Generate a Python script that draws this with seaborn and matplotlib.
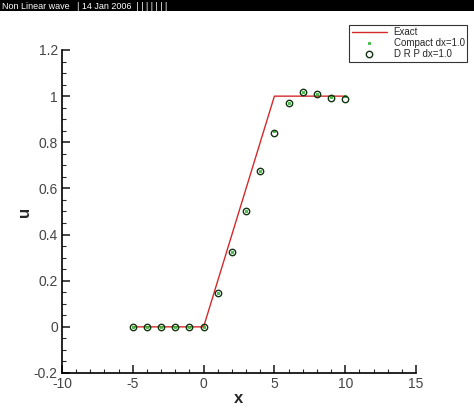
import matplotlib
matplotlib.use("Agg")
import matplotlib.pyplot as plt
import seaborn as sns
import numpy as np
import pandas as pd

# solucion exacta
exact_x = [-5, 0, 5, 10]
exact_u = [0, 0, 1, 1]

# esquemas numericos, dx = 1.0
puntos_x = [-5, -4, -3, -2, -1, 0, 1, 2, 3, 4, 5, 6, 7, 8, 9, 10]
compact_u = [0, 0, 0, 0, 0, 0, 0.146, 0.325, 0.504, 0.677, 0.85, 0.972, 1.02, 1.01, 0.995, 1.0]
drp_u = [0, 0, 0, 0, 0, 0, 0.146, 0.325, 0.504, 0.677, 0.839, 0.972, 1.018, 1.01, 0.993, 0.989]

x_ticks = [-10, -5, 0, 5, 10, 15]
y_ticks = [-0.2, 0, 0.2, 0.4, 0.6, 0.8, 1, 1.2]

sns.set_style("ticks")
plt.rcParams['font.family'] = ['Liberation Sans', 'DejaVu Sans']

fig = plt.figure(figsize=(4.74, 4.2), dpi=100)
ax = fig.add_axes([62 / 474, 47 / 420, 354 / 474, 323 / 420])

df_exact = pd.DataFrame({'x': exact_x, 'u': exact_u})
df_pts = pd.DataFrame({'x': puntos_x, 'compact': compact_u, 'drp': drp_u})

sns.lineplot(data=df_exact, x='x', y='u', ax=ax, color='#d42a2a', linewidth=1.0,
             sort=False, label='Exact')
ax.plot(df_pts['x'], df_pts['compact'], linestyle='none', marker='s', markersize=1.8,
        markerfacecolor='#44cc44', markeredgecolor='#22aa22', markeredgewidth=0.5,
        label='Compact dx=1.0')
ax.plot(df_pts['x'], df_pts['drp'], linestyle='none', marker='o', markersize=4.6,
        markerfacecolor='none', markeredgecolor='#113311', markeredgewidth=1.0,
        label='D R P dx=1.0')

ax.set_xlim(-10, 15)
ax.set_ylim(-0.2, 1.2)
ax.set_xticks(x_ticks)
ax.set_yticks(y_ticks)
ax.set_xticklabels([str(t) for t in x_ticks])
ax.set_yticklabels(['-0.2', '0', '0.2', '0.4', '0.6', '0.8', '1', '1.2'])
ax.xaxis.set_minor_locator(matplotlib.ticker.MultipleLocator(1))
ax.yaxis.set_minor_locator(matplotlib.ticker.MultipleLocator(0.05))
ax.tick_params(which='major', direction='in', length=6, width=1.2, labelsize=10,
               labelcolor='#444444', pad=3)
ax.tick_params(which='minor', direction='in', length=3, width=0.8)
sns.despine(ax=ax)
for s in ['left', 'bottom']:
    ax.spines[s].set_linewidth(1.2)
    ax.spines[s].set_color('black')

ax.set_xlabel('x', fontsize=12, fontweight='bold', labelpad=0)
ax.set_ylabel('u', fontsize=12, fontweight='bold', labelpad=1)

ax.get_legend().remove()
handles, labels = ax.get_legend_handles_labels()
leg = fig.legend(handles, labels, loc='upper right', bbox_to_anchor=(467 / 474, 1 - 25 / 420),
                 fontsize=7, frameon=True, fancybox=False, handlelength=3.6,
                 borderpad=0.25, labelspacing=0.1, handletextpad=0.7, borderaxespad=0)
leg.get_frame().set_edgecolor('black')
leg.get_frame().set_linewidth(0.8)

# barra de titulo
barra = fig.add_axes([0, 1 - 11 / 420, 1, 11 / 420])
barra.set_facecolor('black')
barra.set_xticks([])
barra.set_yticks([])
for s in barra.spines.values():
    s.set_visible(False)
barra.text(0.005, 0.45, 'Non Linear wave   | 14 Jan 2006  | | | | | | |', color='white',
           fontsize=6.5, va='center', ha='left', transform=barra.transAxes)

fig.savefig('out.png', dpi=100)
